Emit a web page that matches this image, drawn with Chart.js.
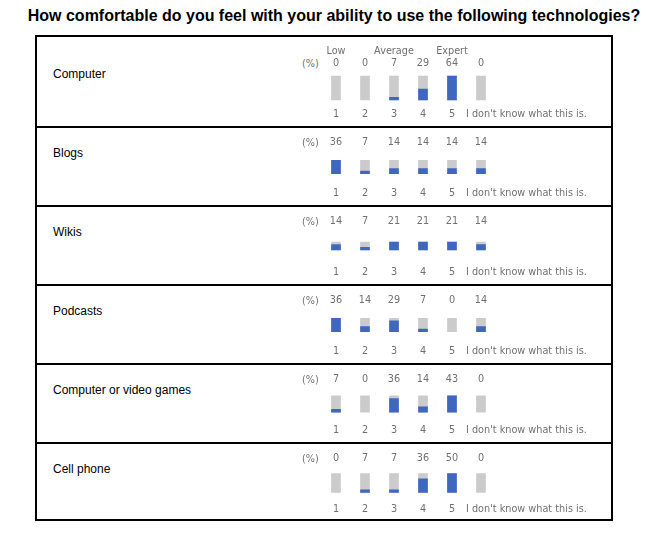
<!DOCTYPE html>
<html>
<head>
<meta charset="utf-8">
<script src="https://cdn.jsdelivr.net/npm/chart.js@4"></script>
<style>
  body { margin: 0; background: #fff; }
  #page { position: relative; width: 648px; height: 533px; overflow: hidden; }
  #title { position: absolute; left: 0; width: 668px; top: 7px; text-align: center; line-height: 20px;
           font: bold 16px "Liberation Sans", Arial, sans-serif; color: #000; white-space: nowrap; }
  #frame { position: absolute; left: 35px; top: 35px; width: 578px; height: 486px;
           box-sizing: border-box; border: 2px solid #000; }
  .sep { position: absolute; left: 35px; width: 578px; height: 2px; background: #000; }
  .tech { position: absolute; left: 53px; font: 12px "Liberation Sans", Arial, sans-serif;
          color: #000; line-height: 14px; white-space: nowrap; }
  .pct { position: absolute; left: 302px; font: 9.7px "DejaVu Sans", Verdana, sans-serif;
         color: #707070; line-height: 12px; }
  canvas { position: absolute; left: 300px; }
</style>
</head>
<body>
<div id="page">
  <div id="title">How comfortable do you feel with your ability to use the following technologies?</div>
  <div id="frame"></div>
</div>
<script>
// answer options and survey results (%)
const categories = ['1', '2', '3', '4', '5', "I don't know what this is."];
const scaleLabels = ['Low', '', 'Average', '', 'Expert', ''];
const technologies = ['Computer', 'Blogs', 'Wikis', 'Podcasts', 'Computer or video games', 'Cell phone'];
const computer = [0, 0, 7, 29, 64, 0];
const blogs = [36, 7, 14, 14, 14, 14];
const wikis = [14, 7, 21, 21, 21, 14];
const podcasts = [36, 14, 29, 7, 0, 14];
const games = [7, 0, 36, 14, 43, 0];
const cellPhone = [0, 7, 7, 36, 50, 0];
const series = [computer, blogs, wikis, podcasts, games, cellPhone];

const page = document.getElementById('page');
const BLUE = '#3f67c0';
const GREY = '#cbcbcb';
const TEXT = '#707070';
const FONT = { family: '"DejaVu Sans", Verdana, sans-serif', size: 9.7 };
const LINE_H = FONT.size * 1.2;
const HALF = 35;          // y range is -HALF..HALF
const PX = 0.375;         // px per percent
const CANVAS_H = 80;
const VAL_PAD = 6.05;
const VAL_H = VAL_PAD + LINE_H + 0.1;
const HEAD_H = LINE_H + 0.1;

// draws the long last label left-aligned, like the original
const lastLabel = {
    id: 'lastLabel',
    afterDraw(chart) {
        const x = chart.scales.x;
        const ctx = chart.ctx;
        ctx.save();
        ctx.font = FONT.size + 'px ' + FONT.family;
        ctx.fillStyle = TEXT;
        ctx.textAlign = 'left';
        ctx.textBaseline = 'middle';
        ctx.fillText(categories[5], x.getPixelForValue(5) - 15, x.top + 7.5 + LINE_H / 2);
        ctx.restore();
    }
};

const rowTops = [35, 127, 206, 285, 364, 443];
rowTops.forEach((t, i) => {
    if (i > 0) {
        const s = document.createElement('div');
        s.className = 'sep';
        s.style.top = (t - 1) + 'px';
        page.appendChild(s);
    }
});

series.forEach((vals, i) => {
    const V = 63 + 79 * i;     // y of the value row
    const m = Math.max(...vals);

    const lab = document.createElement('div');
    lab.className = 'tech';
    lab.style.top = (V + 11 - 7) + 'px';
    lab.textContent = technologies[i];
    page.appendChild(lab);

    const pct = document.createElement('div');
    pct.className = 'pct';
    pct.style.top = (V - 5) + 'px';
    pct.textContent = '(%)';
    page.appendChild(pct);

    const canvas = document.createElement('canvas');
    canvas.width = 312;
    canvas.height = CANVAS_H;
    const canvasTop = V - 20;
    canvas.style.top = canvasTop + 'px';
    page.appendChild(canvas);

    const areaTop = V + 25 - HALF * PX;
    const topAxes = i === 0 ? VAL_H + HEAD_H : VAL_H;
    const padTop = areaTop - canvasTop - topAxes;
    const padBottom = CANVAS_H - (areaTop - canvasTop) - 2 * HALF * PX - 20;

    const scales = {
        x: {
            type: 'category',
            position: 'bottom',
            offset: true,
            grid: { display: false, drawTicks: false },
            border: { display: false },
            ticks: {
                color: TEXT, font: FONT, padding: 7.5, maxRotation: 0, autoSkip: false,
                callback: (v, idx) => idx < 5 ? categories[idx] : ''
            },
            afterFit: s => { s.height = 20; }
        },
        top: {
            type: 'category',
            position: 'top',
            labels: vals.map(String),
            offset: true,
            weight: 0,
            grid: { display: false, drawTicks: false },
            border: { display: false },
            ticks: { color: TEXT, font: FONT, padding: VAL_PAD, maxRotation: 0, autoSkip: false },
            afterFit: s => { s.height = VAL_H; }
        },
        y: { display: false, min: -HALF, max: HALF }
    };
    if (i === 0) {
        scales.header = {
            type: 'category',
            position: 'top',
            labels: scaleLabels,
            offset: true,
            weight: 1,
            grid: { display: false, drawTicks: false },
            border: { display: false },
            ticks: { color: TEXT, font: FONT, padding: 0, maxRotation: 0, autoSkip: false },
            afterFit: s => { s.height = HEAD_H; }
        };
    }

    new Chart(canvas.getContext('2d'), {
        type: 'bar',
        data: {
            labels: categories,
            datasets: [{
                label: 'answered',
                data: vals.map(v => v > 0 ? [-m / 2, -m / 2 + v] : null),
                backgroundColor: BLUE,
                barThickness: 9,
                grouped: false
            }, {
                label: 'scale',
                data: vals.map(() => [-m / 2, m / 2]),
                backgroundColor: GREY,
                barThickness: 9,
                grouped: false
            }]
        },
        options: {
            responsive: false,
            animation: false,
            layout: { padding: { left: 21.5, right: 116.5, top: padTop, bottom: padBottom } },
            plugins: { legend: { display: false }, tooltip: { enabled: false } },
            scales: scales
        },
        plugins: [lastLabel]
    });
});
</script>
</body>
</html>
